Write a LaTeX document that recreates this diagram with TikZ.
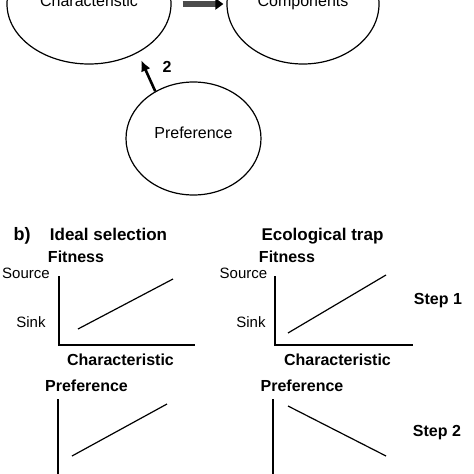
\documentclass[tikz,border=0pt]{standalone}
\usepackage{fontspec}
\setmainfont{Liberation Sans}
\usetikzlibrary{shapes.geometric,arrows.meta}

\tikzset{
  blob/.style={draw,ellipse,line width=1.2pt,inner sep=0pt},
  txt/.style={anchor=base,inner sep=0pt,font=\fontsize{16}{19}\selectfont},
  btxt/.style={txt,font=\fontsize{16}{19}\selectfont\bfseries},
  head/.style={txt,font=\fontsize{17}{20}\selectfont\bfseries},
  small/.style={txt,font=\fontsize{15}{18}\selectfont},
  axis/.style={line width=1.3pt},
  trend/.style={line width=1.2pt}
}

\begin{document}
\begin{tikzpicture}[x=1pt,y=-1pt]
        \useasboundingbox (0,0) rectangle (474,474);
        \clip (0,0) rectangle (474,474);

        % a) ellipses
        \node[blob,minimum width=164pt,minimum height=120pt] (char) at (89,4) {};
        \node[blob,minimum width=152pt,minimum height=120pt] (comp) at (303,4) {};
        \node[blob,minimum width=135pt,minimum height=113pt] (pref) at (193.5,138.5) {};
        \node[txt] (chartxt) at ([yshift=-2pt]char.center) {Characteristic};
        \node[txt] (comptxt) at ([yshift=-2pt]comp.center) {Components};
        \node[txt] (preftxt) at (pref.center) {Preference};

        % a) arrows
        \draw[line width=6pt,black!70,shorten <=11pt,shorten >=3pt,
              -{Triangle[length=8pt,width=11pt,black]}] (char.east) -- (comp.west);
        \draw[line width=2.6pt,shorten >=8pt,-{Latex[length=11pt,width=10pt]}] (pref.129) -- (char.-45);
        \node[btxt] (two) at (167,72) {2};

        % b) headings
        \node[txt,font=\fontsize{18}{21}\selectfont\bfseries] (blabel) at (22,240) {b)};
        \node[head] (ideal) at (108.5,240) {Ideal selection};
        \node[head] (trap) at (322.5,240) {Ecological trap};

        % step 1: fitness
        \node[btxt] (fitL) at (76,262) {Fitness};
        \node[btxt] (fitR) at (287,262) {Fitness};
        \node[small] (srcL) at (26,278) {Source};
        \node[small] (srcR) at (243.5,278) {Source};
        \node[small] (sinkL) at (31,327) {Sink};
        \node[small] (sinkR) at (251,327) {Sink};
        \node[btxt] (step1) at (438,304) {Step 1};
        \draw[axis] (59,276) -- (59,345) -- (195,345);
        \draw[axis] (275,276) -- (275,345) -- (413,345);
        \draw[trend] (78,329) -- (173,279);
        \draw[trend] (288,333) -- (386,275);
        \node[btxt] (chL) at (120.5,365) {Characteristic};
        \node[btxt] (chR) at (337.5,365) {Characteristic};

        % step 2: preference
        \node[btxt] (prL) at (86.5,391) {Preference};
        \node[btxt] (prR) at (302,391) {Preference};
        \node[btxt] (step2) at (437,436) {Step 2};
        \draw[axis] (58,399) -- (58,480);
        \draw[axis] (273,399) -- (273,480);
        \draw[trend] (72,456) -- (167,404);
        \draw[trend] (288,406) -- (386,456);
    \end{tikzpicture}
\end{document}
